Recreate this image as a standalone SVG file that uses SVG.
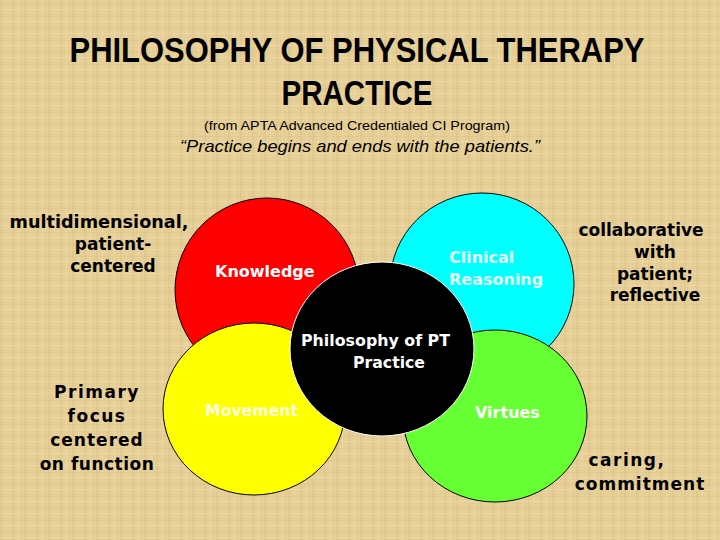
<svg xmlns="http://www.w3.org/2000/svg" width="720" height="540" viewBox="0 0 720 540">
<defs>
<pattern id="burlap" width="12" height="12" patternUnits="userSpaceOnUse">
<rect width="12" height="12" fill="#e6cf97"/>
<rect x="0" y="0" width="2" height="12" fill="#dcc185" opacity="0.5"/>
<rect x="6" y="0" width="1" height="12" fill="#f0dcaa" opacity="0.6"/>
<rect x="0" y="4" width="12" height="1" fill="#d8bd82" opacity="0.4"/>
<rect x="0" y="9" width="12" height="1" fill="#f2e0b0" opacity="0.5"/>
</pattern>
<style>
.title{font-family:"Liberation Sans",Arial,sans-serif;font-weight:bold;font-size:35px;fill:#000;text-anchor:middle}
.sub{font-family:"Liberation Sans",Arial,sans-serif;font-size:13px;fill:#000;text-anchor:middle}
.quote{font-family:"Liberation Sans",Arial,sans-serif;font-size:17px;font-style:italic;fill:#000;text-anchor:middle}
.side{font-family:"DejaVu Sans",Verdana,sans-serif;font-weight:bold;font-size:17px;fill:#000;text-anchor:middle}
.lbl{font-family:"DejaVu Sans",Verdana,sans-serif;font-weight:bold;font-size:16px}
.circ{stroke:#000;stroke-width:1}
</style>
</defs>
<rect width="720" height="540" fill="url(#burlap)"/>
<text class="title" x="357" y="62" textLength="575" lengthAdjust="spacingAndGlyphs">PHILOSOPHY OF PHYSICAL THERAPY</text>
<text class="title" x="357" y="105" textLength="151" lengthAdjust="spacingAndGlyphs">PRACTICE</text>
<text class="sub" x="357" y="130" textLength="306" lengthAdjust="spacingAndGlyphs">(from APTA Advanced Credentialed CI Program)</text>
<text class="quote" x="360" y="152" textLength="360" lengthAdjust="spacingAndGlyphs">“Practice begins and ends with the patients.”</text>

<g id="side-left-top">
<text class="side" x="99" y="228" textLength="179" lengthAdjust="spacingAndGlyphs">multidimensional,</text>
<text class="side" x="113" y="250">patient-</text>
<text class="side" x="113" y="272">centered</text>
</g>
<g id="side-right-top">
<text class="side" x="641" y="236">collaborative</text>
<text class="side" x="655" y="258">with</text>
<text class="side" x="655" y="280">patient;</text>
<text class="side" x="655" y="301">reflective</text>
</g>
<g id="side-left-bottom">
<text class="side" x="97" y="398" letter-spacing="1.5">Primary</text>
<text class="side" x="97" y="422" letter-spacing="1.5">focus</text>
<text class="side" x="97" y="446" letter-spacing="1">centered</text>
<text class="side" x="97" y="470" letter-spacing="0.5">on function</text>
</g>
<g id="side-right-bottom">
<text class="side" x="627" y="466" letter-spacing="1.5">caring,</text>
<text class="side" x="640" y="490" letter-spacing="1">commitment</text>
</g>

<g id="knowledge">
<ellipse class="circ" cx="267" cy="290" rx="92" ry="92" fill="#ff0000"/>
<text class="lbl" x="215" y="277" fill="#ffffff">Knowledge</text>
</g>
<g id="clinical-reasoning">
<ellipse class="circ" cx="482" cy="284" rx="92" ry="91" fill="#00ffff"/>
<text class="lbl" x="449" y="263" fill="#e6ffff">Clinical</text>
<text class="lbl" x="449" y="285" fill="#e6ffff">Reasoning</text>
</g>
<g id="movement">
<ellipse class="circ" cx="254" cy="409" rx="91" ry="86" fill="#ffff00"/>
<text class="lbl" x="205" y="416" fill="#ffffe0" textLength="93" lengthAdjust="spacingAndGlyphs">Movement</text>
</g>
<g id="virtues">
<ellipse class="circ" cx="495" cy="416" rx="92" ry="86" fill="#66ff33"/>
<text class="lbl" x="475" y="418" fill="#ffffff">Virtues</text>
</g>
<g id="philosophy">
<ellipse cx="382" cy="349" rx="92" ry="87" fill="#000" stroke="#ffffff" stroke-width="1"/>
<text class="lbl" x="301" y="346" fill="#ffffff" textLength="149" lengthAdjust="spacingAndGlyphs">Philosophy of PT</text>
<text class="lbl" x="353" y="368" fill="#ffffff" textLength="72" lengthAdjust="spacingAndGlyphs">Practice</text>
</g>
<g id="connectors"></g>
</svg>
